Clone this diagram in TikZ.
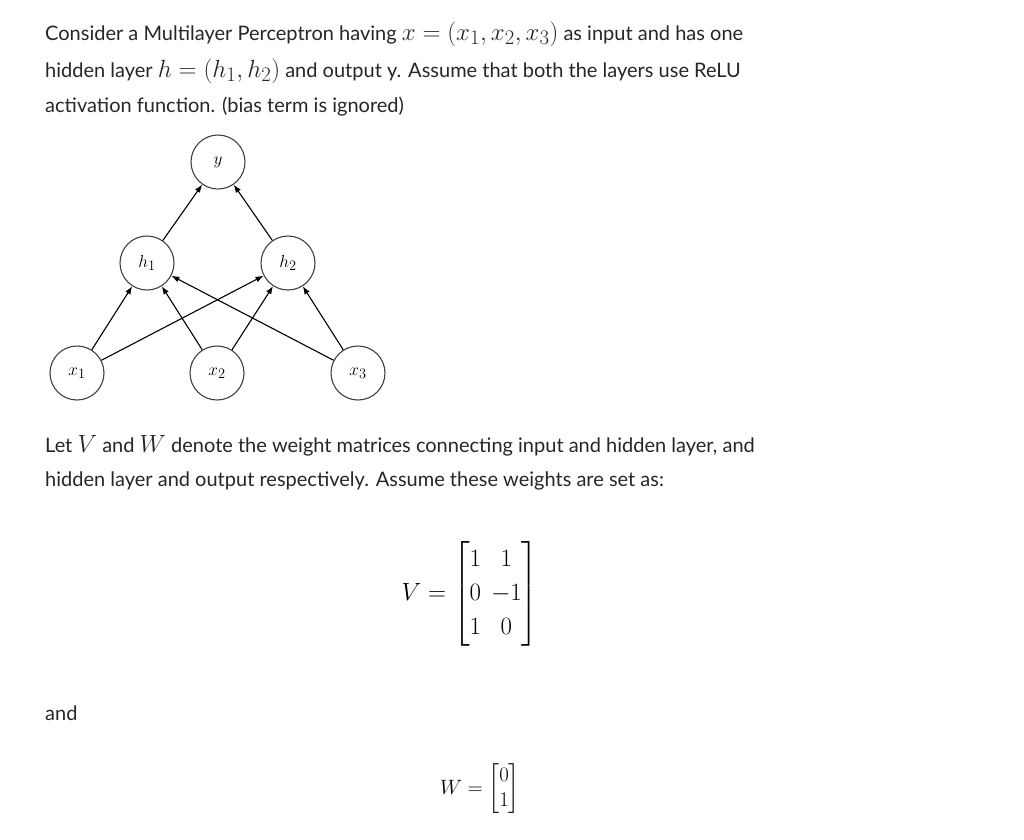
\documentclass[tikz,border=0pt]{standalone}
\usepackage{amsmath}
\usepackage{fontspec}
\setmainfont{Lato}
\usetikzlibrary{arrows.meta}
\begin{document}
\begin{tikzpicture}[x=1pt,y=-1pt,
  neuron/.style={circle,draw=black!75,line width=1.1pt,minimum size=54pt,inner sep=0pt,font=\fontsize{19}{20}\selectfont},
  conn/.style={line width=1.1pt,-{Latex[length=8pt,width=6pt]}},
  txt/.style={anchor=base west,inner sep=0pt,font=\fontsize{20}{24}\selectfont,text=black!85}]
\useasboundingbox (0,0) rectangle (1024,839);
\newcommand{\mybigmath}[1]{{\fontsize{28}{30}\selectfont$#1$}}
\node[txt] (l1) at (45,40) {Consider a Multilayer Perceptron having \mybigmath{x=(x_1,x_2,x_3)} as input and has one};
\node[txt] (l2) at (45,77) {hidden layer \mybigmath{h=(h_1,h_2)} and output y. Assume that both the layers use ReLU};
\node[txt] (l3) at (45,112) {activation function. (bias term is ignored)};

\node[neuron] (y) at (218,162) {$y$};
\node[neuron] (h1) at (147,263) {$h_1$};
\node[neuron] (h2) at (288,263) {$h_2$};
\node[neuron] (x1) at (77,373) {$x_1$};
\node[neuron] (x2) at (217,373) {$x_2$};
\node[neuron] (x3) at (358,373) {$x_3$};
\foreach \a/\b in {h1/y,h2/y,x1/h1,x1/h2,x2/h1,x2/h2,x3/h1,x3/h2}
  \draw[conn] (\a) -- (\b);

\node[txt] (l4) at (45,452) {Let \mybigmath{V} and \mybigmath{W} denote the weight matrices connecting input and hidden layer, and};
\node[txt] (l5) at (45,486) {hidden layer and output respectively. Assume these weights are set as:};

\node[inner sep=0pt] (V) at (470,594) {\fontsize{28}{34}\selectfont$V=\begin{bmatrix}1&1\\0&-1\\1&0\end{bmatrix}$};
\node[txt] (and) at (45,720) {and};
\node[inner sep=0pt] (W) at (480,789) {\fontsize{22}{25}\selectfont$W=\begin{bmatrix}0\\1\end{bmatrix}$};
\end{tikzpicture}
\end{document}
